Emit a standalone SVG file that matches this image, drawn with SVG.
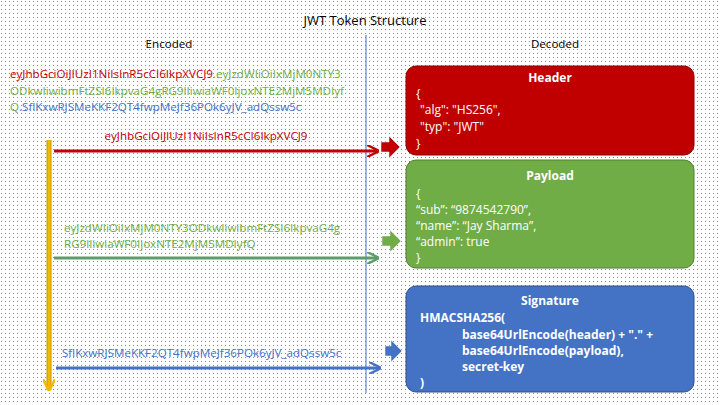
<svg xmlns="http://www.w3.org/2000/svg" width="720" height="405" viewBox="0 0 720 405">
<style>
text{font-family:"Open Sans","Liberation Sans",sans-serif;font-size:11.6px}
.r{fill:#C00000}.g{fill:#70AD47}.b{fill:#4472C4}
.w{fill:#fff;font-size:12px}
.t{font-weight:bold}
</style>
<defs>
<pattern id="dots" width="4" height="4" patternUnits="userSpaceOnUse"><rect x="1" y="1" width="1" height="1" fill="#888"/></pattern>
<marker id="ah" viewBox="0 0 10 10" refX="9" refY="5" markerWidth="4" markerHeight="4" orient="auto"><path d="M0,0 L10,5 L0,10" fill="none" stroke="context-stroke" stroke-width="2"/></marker>
</defs>
<rect width="720" height="405" fill="#fff"/>
<rect width="720" height="405" fill="url(#dots)"/>
<text x="365" y="25" text-anchor="middle" style="font-size:13px">JWT Token Structure</text>
<text x="169" y="48" text-anchor="middle">Encoded</text>
<text x="555" y="48" text-anchor="middle">Decoded</text>
<text x="10" y="78"><tspan class="r">eyJhbGciOiJIUzI1NiIsInR5cCI6IkpXVCJ9</tspan><tspan class="g">.eyJzdWIiOiIxMjM0NTY3</tspan></text>
<text x="10" y="95" class="g">ODkwIiwibmFtZSI6IkpvaG4gRG9lIiwiaWF0IjoxNTE2MjM5MDIyf</text>
<text x="10" y="111"><tspan class="g">Q</tspan><tspan class="b">.SflKxwRJSMeKKF2QT4fwpMeJf36POk6yJV_adQssw5c</tspan></text>
<g id="connectors">
<line x1="366" y1="35" x2="366" y2="393" stroke="#4472C4" stroke-width="1"/>
<line x1="49" y1="140" x2="49" y2="390" stroke="#C79100" stroke-width="5"/>
<line x1="49" y1="140" x2="49" y2="390" stroke="#F5B800" stroke-width="3" marker-end="url(#ah)"/>
<line x1="54" y1="151" x2="378" y2="151" stroke="#C00000" stroke-width="3" marker-end="url(#ah)"/>
<line x1="54" y1="258" x2="378" y2="258" stroke="#5E9C6A" stroke-width="3" marker-end="url(#ah)"/>
<line x1="56" y1="368" x2="380" y2="368" stroke="#4472C4" stroke-width="3" marker-end="url(#ah)"/>
<path d="M381,142 h8 v-6 l11,11 l-11,11 v-6 h-8z" class="r" stroke="#fff" stroke-width="0.5"/>
<path d="M382,236 h8 v-6 l11,11 l-11,11 v-6 h-8z" class="g" stroke="#fff" stroke-width="0.5"/>
<path d="M385,346 h6 v-6 l11,11 l-11,11 v-6 h-6z" class="b" stroke="#fff" stroke-width="0.5"/>
</g>
<text x="206" y="140" text-anchor="middle" class="r">eyJhbGciOiJIUzI1NiIsInR5cCI6IkpXVCJ9</text>
<text x="64" y="232" class="g">eyJzdWIiOiIxMjM0NTY3ODkwIiwibmFtZSI6IkpvaG4g</text>
<text x="64" y="248" class="g">RG9lIiwiaWF0IjoxNTE2MjM5MDIyfQ</text>
<text x="62" y="357" class="b">SflKxwRJSMeKKF2QT4fwpMeJf36POk6yJV_adQssw5c</text>
<g id="header">
<rect x="406" y="66" width="288" height="89" rx="10" class="r" stroke="#8B0000"/>
<text x="550" y="82" text-anchor="middle" class="w t">Header</text>
<text x="416" y="98" class="w">{</text>
<text x="420" y="114" class="w">"alg": "HS256",</text>
<text x="420" y="131" class="w">"typ": "JWT"</text>
<text x="416" y="148" class="w">}</text>
</g>
<g id="payload">
<rect x="406" y="160" width="288" height="108" rx="10" class="g" stroke="#507E32"/>
<text x="550" y="180" text-anchor="middle" class="w t">Payload</text>
<text x="416" y="198" class="w">{</text>
<text x="416" y="214" class="w">“sub”: “9874542790”,</text>
<text x="416" y="230" class="w">“name”: “Jay Sharma”,</text>
<text x="416" y="246" class="w">“admin”: true</text>
<text x="416" y="262" class="w">}</text>
</g>
<g id="signature">
<rect x="406" y="286" width="288" height="106" rx="10" class="b" stroke="#2F528F"/>
<text x="550" y="305" text-anchor="middle" class="w t">Signature</text>
<text x="420" y="322" class="w t">HMACSHA256(</text>
<text x="462" y="339" class="w t">base64UrlEncode(header) + "." +</text>
<text x="462" y="355" class="w t">base64UrlEncode(payload),</text>
<text x="462" y="371" class="w t">secret-key</text>
<text x="420" y="387" class="w t">)</text>
</g>
</svg>
